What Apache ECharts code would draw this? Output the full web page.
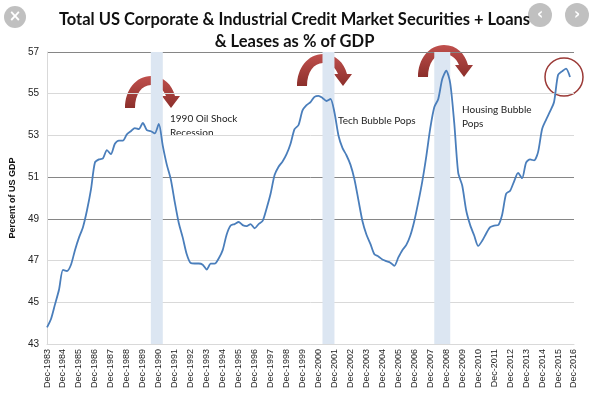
<!DOCTYPE html>
<html lang="en">
<head>
    <meta charset="UTF-8">
    <title>Corporate Credit % of GDP</title>
    <script src="https://cdn.jsdelivr.net/npm/echarts@6/dist/echarts.min.js"></script>
    <style>
        body { margin: 0; background: #fff; }
    </style>
</head>
<body>
    <div id="main" style="width: 589px;height:397px;"></div>
<script type="text/javascript">
    // quarterly, Dec-1983 .. Dec-2016
    var startYear = 1983;
    var endYear = 2016;
    var months = ['Mar', 'Jun', 'Sep', 'Dec'];

    // percent of US GDP (one value per quarter)
    var gdpPct = [
        43.8, 44.2, 44.9, 45.6, 46.55, 46.5, 46.8, 47.5, 48.1, 48.6,
        49.4, 50.4, 51.7, 51.85, 51.9, 52.3, 52.1, 52.6, 52.75, 52.75,
        53.05, 53.2, 53.35, 53.3, 53.6, 53.25, 53.2, 53.1, 53.55, 52.5,
        51.6, 50.9, 49.8, 48.8, 48.1, 47.3, 46.88, 46.86, 46.86, 46.8,
        46.57, 46.85, 46.85, 47.1, 47.5, 48.25, 48.68, 48.75, 48.85, 48.7,
        48.65, 48.75, 48.55, 48.75, 48.9, 49.5, 50.2, 51.1, 51.5, 51.75,
        52.1, 52.6, 53.3, 53.5, 54.2, 54.45, 54.6, 54.85, 54.9, 54.8,
        54.65, 54.75, 54.1, 53.0, 52.4, 52.05, 51.6, 50.9, 49.9, 48.9,
        48.25, 47.8, 47.3, 47.2, 47.05, 46.97, 46.9, 46.75, 47.15, 47.5,
        47.75, 48.2, 48.9, 49.8, 50.8, 52.0, 53.35, 54.35, 54.75, 55.7,
        56.1, 55.5, 53.6, 51.2, 50.6, 49.4, 48.7, 48.2, 47.7, 47.95,
        48.3, 48.6, 48.68, 48.7, 49.2, 50.2, 50.35, 50.8, 51.2, 50.95,
        51.7, 51.85, 51.8, 52.2, 53.3, 53.75, 54.15, 54.6, 55.9, 56.07,
        56.2, 55.8, null
    ];

    // recession bands [from, to]
    var recessions = [
        ['Jun-1990', 'Mar-1991'],
        ['Mar-2001', 'Dec-2001'],
        ['Mar-2008', 'Mar-2009']
    ];

    var cats = ['Dec-' + startYear];
    for (var y = startYear + 1; y <= endYear; y++) {
        for (var m = 0; m < 4; m++) {
            cats.push(months[m] + '-' + y);
        }
    }

    // red curved arrow, local box ~55 x 32
    var arrowPath = 'M0,32 C0,14 11,0 26,0 C39,0 47,9 50,20 L55,20 L46,32 L37,20 L41,20 ' +
        'C38,13 33,9 26,9 C17,9 10,18 10,32 Z';
    echarts.graphic.registerShape('curvedArrow', echarts.graphic.extendPath(arrowPath, {}));

    var arrowFill = {
        type: 'linear', x: 0, y: 0, x2: 0, y2: 1,
        colorStops: [{offset: 0, color: '#c0504d'}, {offset: 1, color: '#8c2f2b'}]
    };
    function arrow(x, y) {
        return {type: 'curvedArrow', x: x, y: y, style: {fill: arrowFill}};
    }
    function note(x, y, txt) {
        return {type: 'text', x: x, y: y, style: {text: txt, fill: '#222', font: '10px Lato', lineHeight: 14}};
    }
    function navBtn(cx, cy, r, ch) {
        return {type: 'group', children: [
            {type: 'circle', shape: {cx: cx, cy: cy, r: r}, style: {fill: 'rgba(150,150,150,0.6)'}},
            {type: 'text', x: cx, y: cy, style: {text: ch, fill: '#fff', font: 'bold 15px "DejaVu Sans"', align: 'center', verticalAlign: 'middle'}}
        ]};
    }

    var myChart = echarts.init(document.getElementById('main'));
    myChart.setOption({
        animation: false,
        title: {
            text: 'Total US Corporate & Industrial Credit Market Securities + Loans\n& Leases as % of GDP',
            left: 'center',
            top: 4,
            textStyle: {fontFamily: 'Lato', fontWeight: 'bold', fontSize: 16.5, color: '#111', lineHeight: 22}
        },
        grid: {left: 43, right: 15, top: 52, bottom: 53},
        xAxis: {
            type: 'category',
            data: cats,
            boundaryGap: false,
            axisLine: {lineStyle: {color: '#d9d9d9'}},
            axisTick: {show: false},
            axisLabel: {interval: 3, rotate: 90, fontSize: 9, color: '#222', fontFamily: 'Liberation Sans', margin: 5},
            splitLine: {show: false}
        },
        yAxis: {
            type: 'value',
            min: 43, max: 57, interval: 2,
            name: 'Percent of US GDP',
            nameLocation: 'middle',
            nameGap: 22,
            nameTextStyle: {fontSize: 9, fontWeight: 'bold', color: '#111', fontFamily: 'Liberation Sans'},
            axisLine: {show: true, lineStyle: {color: '#d9d9d9'}},
            axisTick: {show: false},
            axisLabel: {fontSize: 10, color: '#222', fontFamily: 'Liberation Sans', margin: 8},
            splitLine: {lineStyle: {color: ['#d9d9d9', '#d9d9d9', '#d9d9d9', '#868686', '#868686', '#d9d9d9', '#d9d9d9', '#868686'], width: 1}}
        },
        series: [{
            name: 'Credit % of GDP',
            type: 'line',
            data: gdpPct,
            smooth: 0.25,
            showSymbol: false,
            lineStyle: {color: '#4a7ebb', width: 1.8},
            markArea: {
                silent: true,
                itemStyle: {color: '#dce6f2'},
                data: recessions.map(function (r) { return [{xAxis: r[0]}, {xAxis: r[1]}]; })
            }
        }],
        graphic: [
            arrow(125, 76),
            arrow(297, 54),
            arrow(418, 45),
            {type: 'circle', shape: {cx: 564, cy: 77, r: 19}, style: {fill: 'none', stroke: '#9b3a37', lineWidth: 1.5}},
            note(170, 112, '1990 Oil Shock\nRecession'),
            note(338, 114, 'Tech Bubble Pops'),
            note(462, 103, 'Housing Bubble\nPops'),
            navBtn(15, 17, 11, '\u00d7'),
            navBtn(540, 15, 12, '\u2039'),
            navBtn(577, 15, 12, '\u203a')
        ]
    });
</script>
</body>
</html>
